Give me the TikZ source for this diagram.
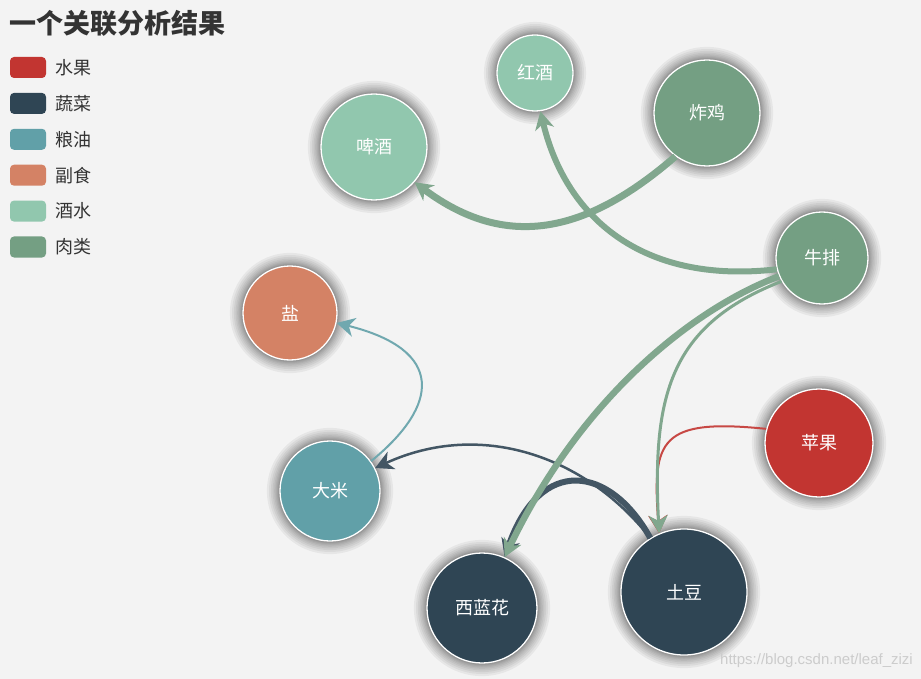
\documentclass[tikz,border=0pt]{standalone}
\usepackage{fontspec}
\setmainfont{Noto Sans CJK SC}
\newfontfamily\urlfont{Liberation Sans}
\usepackage{tikz}
\usetikzlibrary{arrows.meta}

\definecolor{bgc}{HTML}{F3F3F3}
\definecolor{fruit}{HTML}{C23531}
\definecolor{veg}{HTML}{2F4554}
\definecolor{grain}{HTML}{61A0A8}
\definecolor{side}{HTML}{D48265}
\definecolor{drink}{HTML}{91C7AE}
\definecolor{meat}{HTML}{749F83}
\definecolor{txt}{HTML}{333333}

\begin{document}
\begin{tikzpicture}[x=1pt, y=-1pt,
	item/.style={circle, draw=white, line width=1.3pt, fill=#1, text=white, inner sep=0pt,
		font=\fontsize{18}{20}\selectfont},
	key/.style={rounded corners=4pt, fill=#1, minimum width=36pt, minimum height=21pt, inner sep=0pt},
	tip/.style={-{Stealth[length=18pt, width=19pt, inset=5.5pt]}}]
	\useasboundingbox (0,0) rectangle (921,679);
	\fill[bgc] (0,0) rectangle (921,679);
	\node[anchor=west, inner sep=0pt, text=txt, font=\fontsize{27}{29}\selectfont\bfseries] (title) at (9,23) {一个关联分析结果};
	\foreach \c/\t [count=\i] in {fruit/水果, veg/蔬菜, grain/粮油, side/副食, drink/酒水, meat/肉类} {
		\node[key=\c] (key\i) at (28, 67.5+35.9*\i-35.9) {};
		\node[anchor=west, inner sep=0pt, text=txt, font=\fontsize{18}{20}\selectfont] (lbl\i) at (55, 67.5+35.9*\i-35.9) {\t};
	}
	% nodes with soft shadow
	\foreach \n/\x/\y/\d/\c/\t in {pijiu/374/147/106/drink/啤酒, hongjiu/535/73/76/drink/红酒,
		zhaji/707/113/106/meat/炸鸡, niupai/822/258/92/meat/牛排, yan/290/313/94/side/盐,
		dami/330/491/100/grain/大米, pingguo/819/443/108/fruit/苹果,
		xilanhua/482/608/110/veg/西蓝花, tudou/684/592/126/veg/土豆} {
		\foreach \k in {1,...,12}
			\fill[black, opacity=0.05] (\x,\y) circle ({\d/2+\k*\k/11});
		\node[item=\c, minimum size=\d pt] (\n) at (\x,\y) {\t};
	}
	% links
	\draw[meat!90!bgc, line width=7pt, tip] (zhaji.-126) .. controls (585,235) and (505,250) .. (pijiu.-41);
	\draw[meat!90!bgc, line width=6pt, tip] (niupai.194) .. controls (640,285) and (565,215) .. (hongjiu.-82);
	\draw[veg!90!bgc, line width=6pt, tip] (tudou.122) .. controls (610,465) and (540,455) .. (xilanhua.66);
	\draw[veg!90!bgc, line width=2.5pt, tip] (tudou.122) .. controls (585,455) and (480,420) .. (dami.27);
	\draw[meat!90!bgc, line width=6.5pt, tip] (niupai.203) .. controls (690,310) and (580,400) .. (xilanhua.66);
	\draw[fruit!90!bgc, line width=2pt, tip] (pingguo.165) .. controls (660,418) and (652,440) .. (tudou.113);
	\draw[meat!90!bgc, line width=3pt, tip] (niupai.210) .. controls (670,325) and (652,395) .. (tudou.113);
	\draw[grain!90!bgc, line width=2pt, tip] (dami.36) .. controls (440,405) and (445,350) .. (yan.-12);
	\node[anchor=east, inner sep=0pt, text=black!20, font=\urlfont\fontsize{15}{16}\selectfont] (mark) at (913,661) {https://blog.csdn.net/leaf\_zizi};
\end{tikzpicture}
\end{document}
